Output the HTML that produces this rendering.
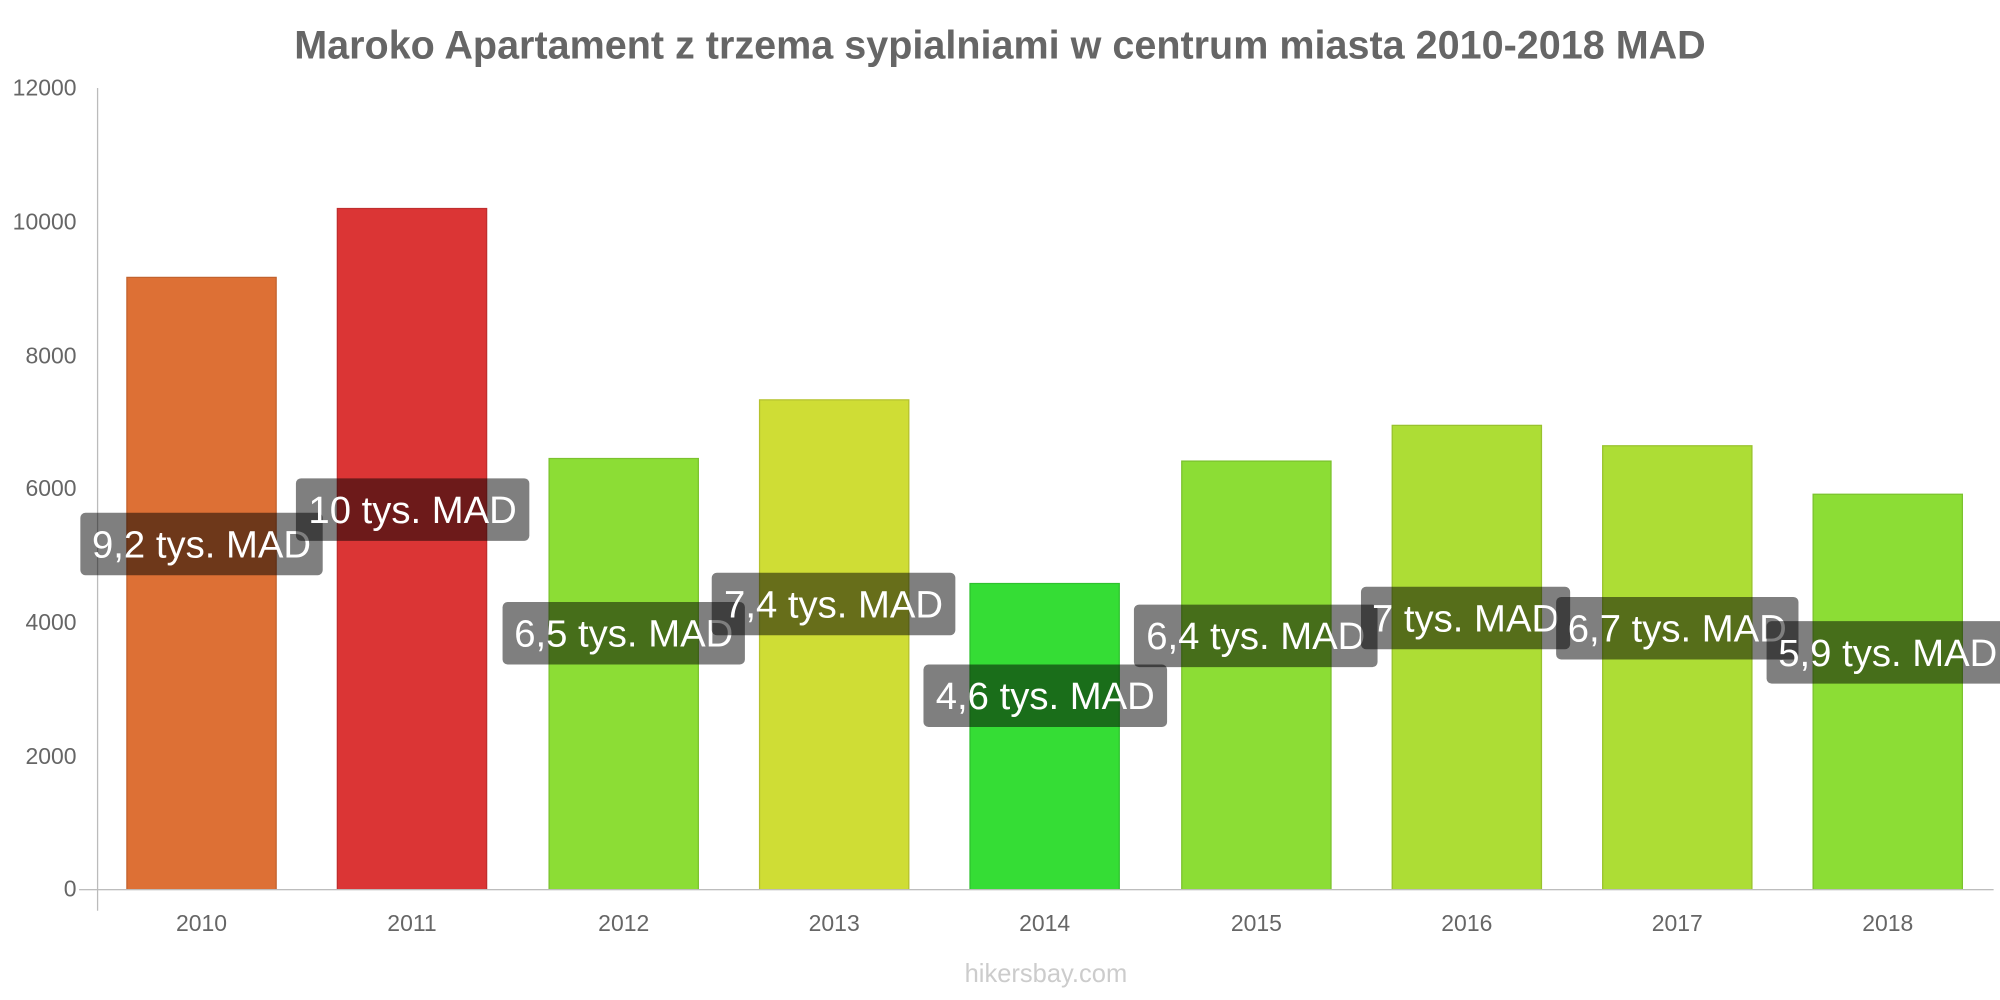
<!DOCTYPE html>
<html><head><meta charset="utf-8"><style>
html,body{margin:0;padding:0;background:#fff;width:2000px;height:1000px;overflow:hidden}
#c{position:absolute;left:0;top:0;width:1568px;height:784px;transform:scale(1.27551);transform-origin:0 0;font-family:"Liberation Sans",sans-serif}
.t{position:absolute;left:0;width:1568px;top:18px;text-align:center;font-size:31px;font-weight:bold;color:#666}
.yl{position:absolute;left:0;width:60px;font-size:18px;color:#666;text-align:right}
.xl{position:absolute;width:120px;text-align:center;font-size:18px;color:#666;top:714px}
.bar{position:absolute;width:118px;box-sizing:border-box;border:1px solid rgba(0,0,0,0.12);border-bottom:none}
.lb{position:absolute;height:49px;line-height:51px;background:rgba(0,0,0,0.5);border-radius:4px;color:#fff;font-size:30px;text-align:center;white-space:nowrap}
</style></head><body><div id="c">
<div class="t">Maroko Apartament z trzema sypialniami w centrum miasta 2010-2018 MAD</div>
<div style="position:absolute;left:76px;top:69px;width:1px;height:645px;background:#bbb"></div>
<div style="position:absolute;left:62px;top:697px;width:1501px;height:1px;background:#bbb"></div>
<div class="yl" style="top:59px">12000</div>
<div class="yl" style="top:164px">10000</div>
<div class="yl" style="top:269px">8000</div>
<div class="yl" style="top:373px">6000</div>
<div class="yl" style="top:478px">4000</div>
<div class="yl" style="top:583px">2000</div>
<div class="yl" style="top:687px">0</div>
<div class="bar" style="left:99px;top:217px;height:480px;background:#dd7035"></div>
<div class="bar" style="left:264px;top:163px;height:534px;background:#db3535"></div>
<div class="bar" style="left:430px;top:359px;height:338px;background:#8cdd35"></div>
<div class="bar" style="left:595px;top:313px;height:384px;background:#cfdd35"></div>
<div class="bar" style="left:760px;top:457px;height:240px;background:#35dd35"></div>
<div class="bar" style="left:926px;top:361px;height:336px;background:#8cdd35"></div>
<div class="bar" style="left:1091px;top:333px;height:364px;background:#addd35"></div>
<div class="bar" style="left:1256px;top:349px;height:348px;background:#addd35"></div>
<div class="bar" style="left:1421px;top:387px;height:310px;background:#8cdd35"></div>
<div class="xl" style="left:98px">2010</div>
<div class="xl" style="left:263px">2011</div>
<div class="xl" style="left:429px">2012</div>
<div class="xl" style="left:594px">2013</div>
<div class="xl" style="left:759px">2014</div>
<div class="xl" style="left:925px">2015</div>
<div class="xl" style="left:1090px">2016</div>
<div class="xl" style="left:1255px">2017</div>
<div class="xl" style="left:1420px">2018</div>
<div class="lb" style="left:63px;top:402px;width:190px">9,2 tys. MAD</div>
<div class="lb" style="left:232px;top:375px;width:183px">10 tys. MAD</div>
<div class="lb" style="left:394px;top:472px;width:190px">6,5 tys. MAD</div>
<div class="lb" style="left:558px;top:449px;width:191px">7,4 tys. MAD</div>
<div class="lb" style="left:724px;top:521px;width:191px">4,6 tys. MAD</div>
<div class="lb" style="left:889px;top:474px;width:191px">6,4 tys. MAD</div>
<div class="lb" style="left:1067px;top:460px;width:164px">7 tys. MAD</div>
<div class="lb" style="left:1220px;top:468px;width:190px">6,7 tys. MAD</div>
<div class="lb" style="left:1385px;top:487px;width:190px">5,9 tys. MAD</div>
<div style="position:absolute;left:0;width:1640px;top:753px;text-align:center;font-size:20px;color:#ccc">hikersbay.com</div>
</div></body></html>
